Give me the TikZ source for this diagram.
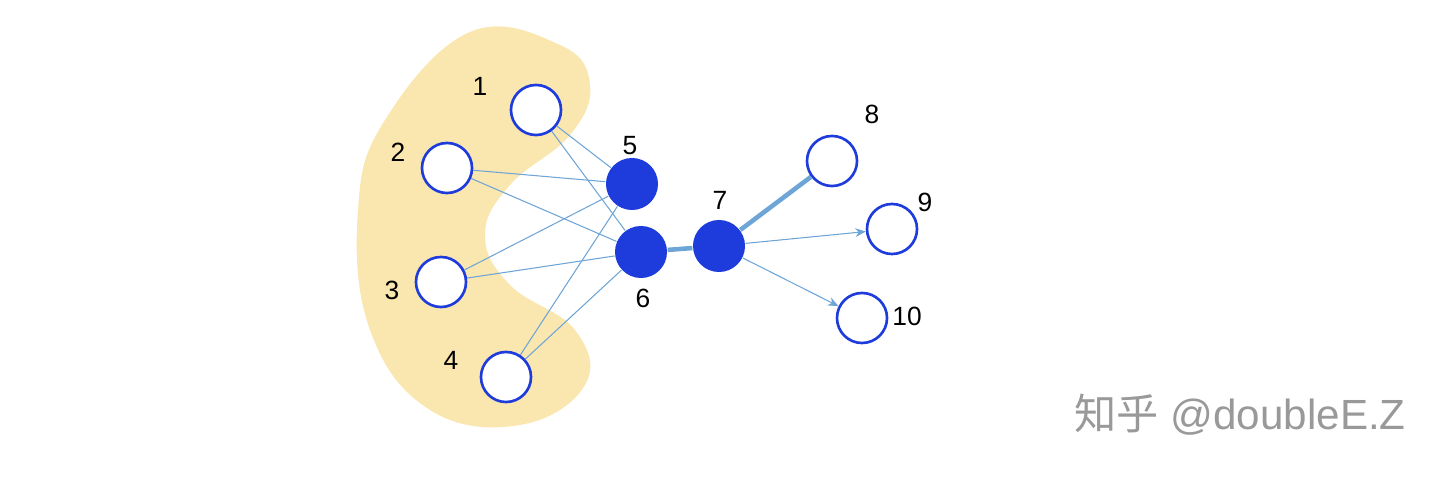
\documentclass[tikz,border=0pt]{standalone}
\usepackage{fontspec}
\setmainfont{Liberation Sans}
\newfontfamily\cjk{Noto Sans CJK SC}
\usetikzlibrary{arrows.meta}
\definecolor{nb}{RGB}{30,60,220}
\definecolor{eb}{RGB}{110,165,215}
\definecolor{blob}{RGB}{250,230,175}
\begin{document}
\begin{tikzpicture}[x=0.01cm,y=-0.01cm,
  open/.style={circle,draw=nb,line width=0.75pt,fill=white,minimum size=0.5cm,inner sep=0},
  full/.style={circle,fill=nb,minimum size=0.52cm,inner sep=0},
  lab/.style={font=\fontsize{7.5}{9}\selectfont},
  e/.style={draw=eb,line width=0.3pt},
  ea/.style={e,-{Stealth[length=3pt,width=2.5pt]}},
  et/.style={draw=eb,line width=1.3pt}]
\useasboundingbox (0,0) rectangle (1440,477);
\fill[blob] plot[smooth cycle,tension=0.7] coordinates{(470,32)(560,45)(590,85)(570,135)(510,185)(485,235)(510,285)(575,330)(585,385)(520,425)(430,410)(370,330)(358,210)(385,120)};
\node[open] (n1) at (536,110) {};
\node[open] (n2) at (447,168) {};
\node[open] (n3) at (441,282) {};
\node[open] (n4) at (506,377) {};
\node[full] (n5) at (632,184) {};
\node[full] (n6) at (641,252) {};
\node[full] (n7) at (719,246) {};
\node[open] (n8) at (832,161) {};
\node[open] (n9) at (892,229) {};
\node[open] (n10) at (862,318) {};
\foreach \a in {1,2,3,4} {\draw[e] (n\a) -- (n5); \draw[e] (n\a) -- (n6);}
\draw[et] (n6) -- (n7);
\draw[et] (n7) -- (n8);
\draw[ea] (n7) -- (n9);
\draw[ea] (n7) -- (n10);
\node[lab] (l1) at (480,86) {1};
\node[lab] (l2) at (398,152) {2};
\node[lab] (l3) at (392,290) {3};
\node[lab] (l4) at (451,360) {4};
\node[lab] (l5) at (630,146) {5};
\node[lab] (l6) at (643,298) {6};
\node[lab] (l7) at (720,200) {7};
\node[lab] (l8) at (872,114) {8};
\node[lab] (l9) at (925,202) {9};
\node[lab] (l10) at (907,316) {10};
\node[text=black!40,font=\fontsize{12}{14}\selectfont,anchor=west] (wm) at (1062,415) {{\cjk 知乎} @doubleE.Z};
\end{tikzpicture}
\end{document}
